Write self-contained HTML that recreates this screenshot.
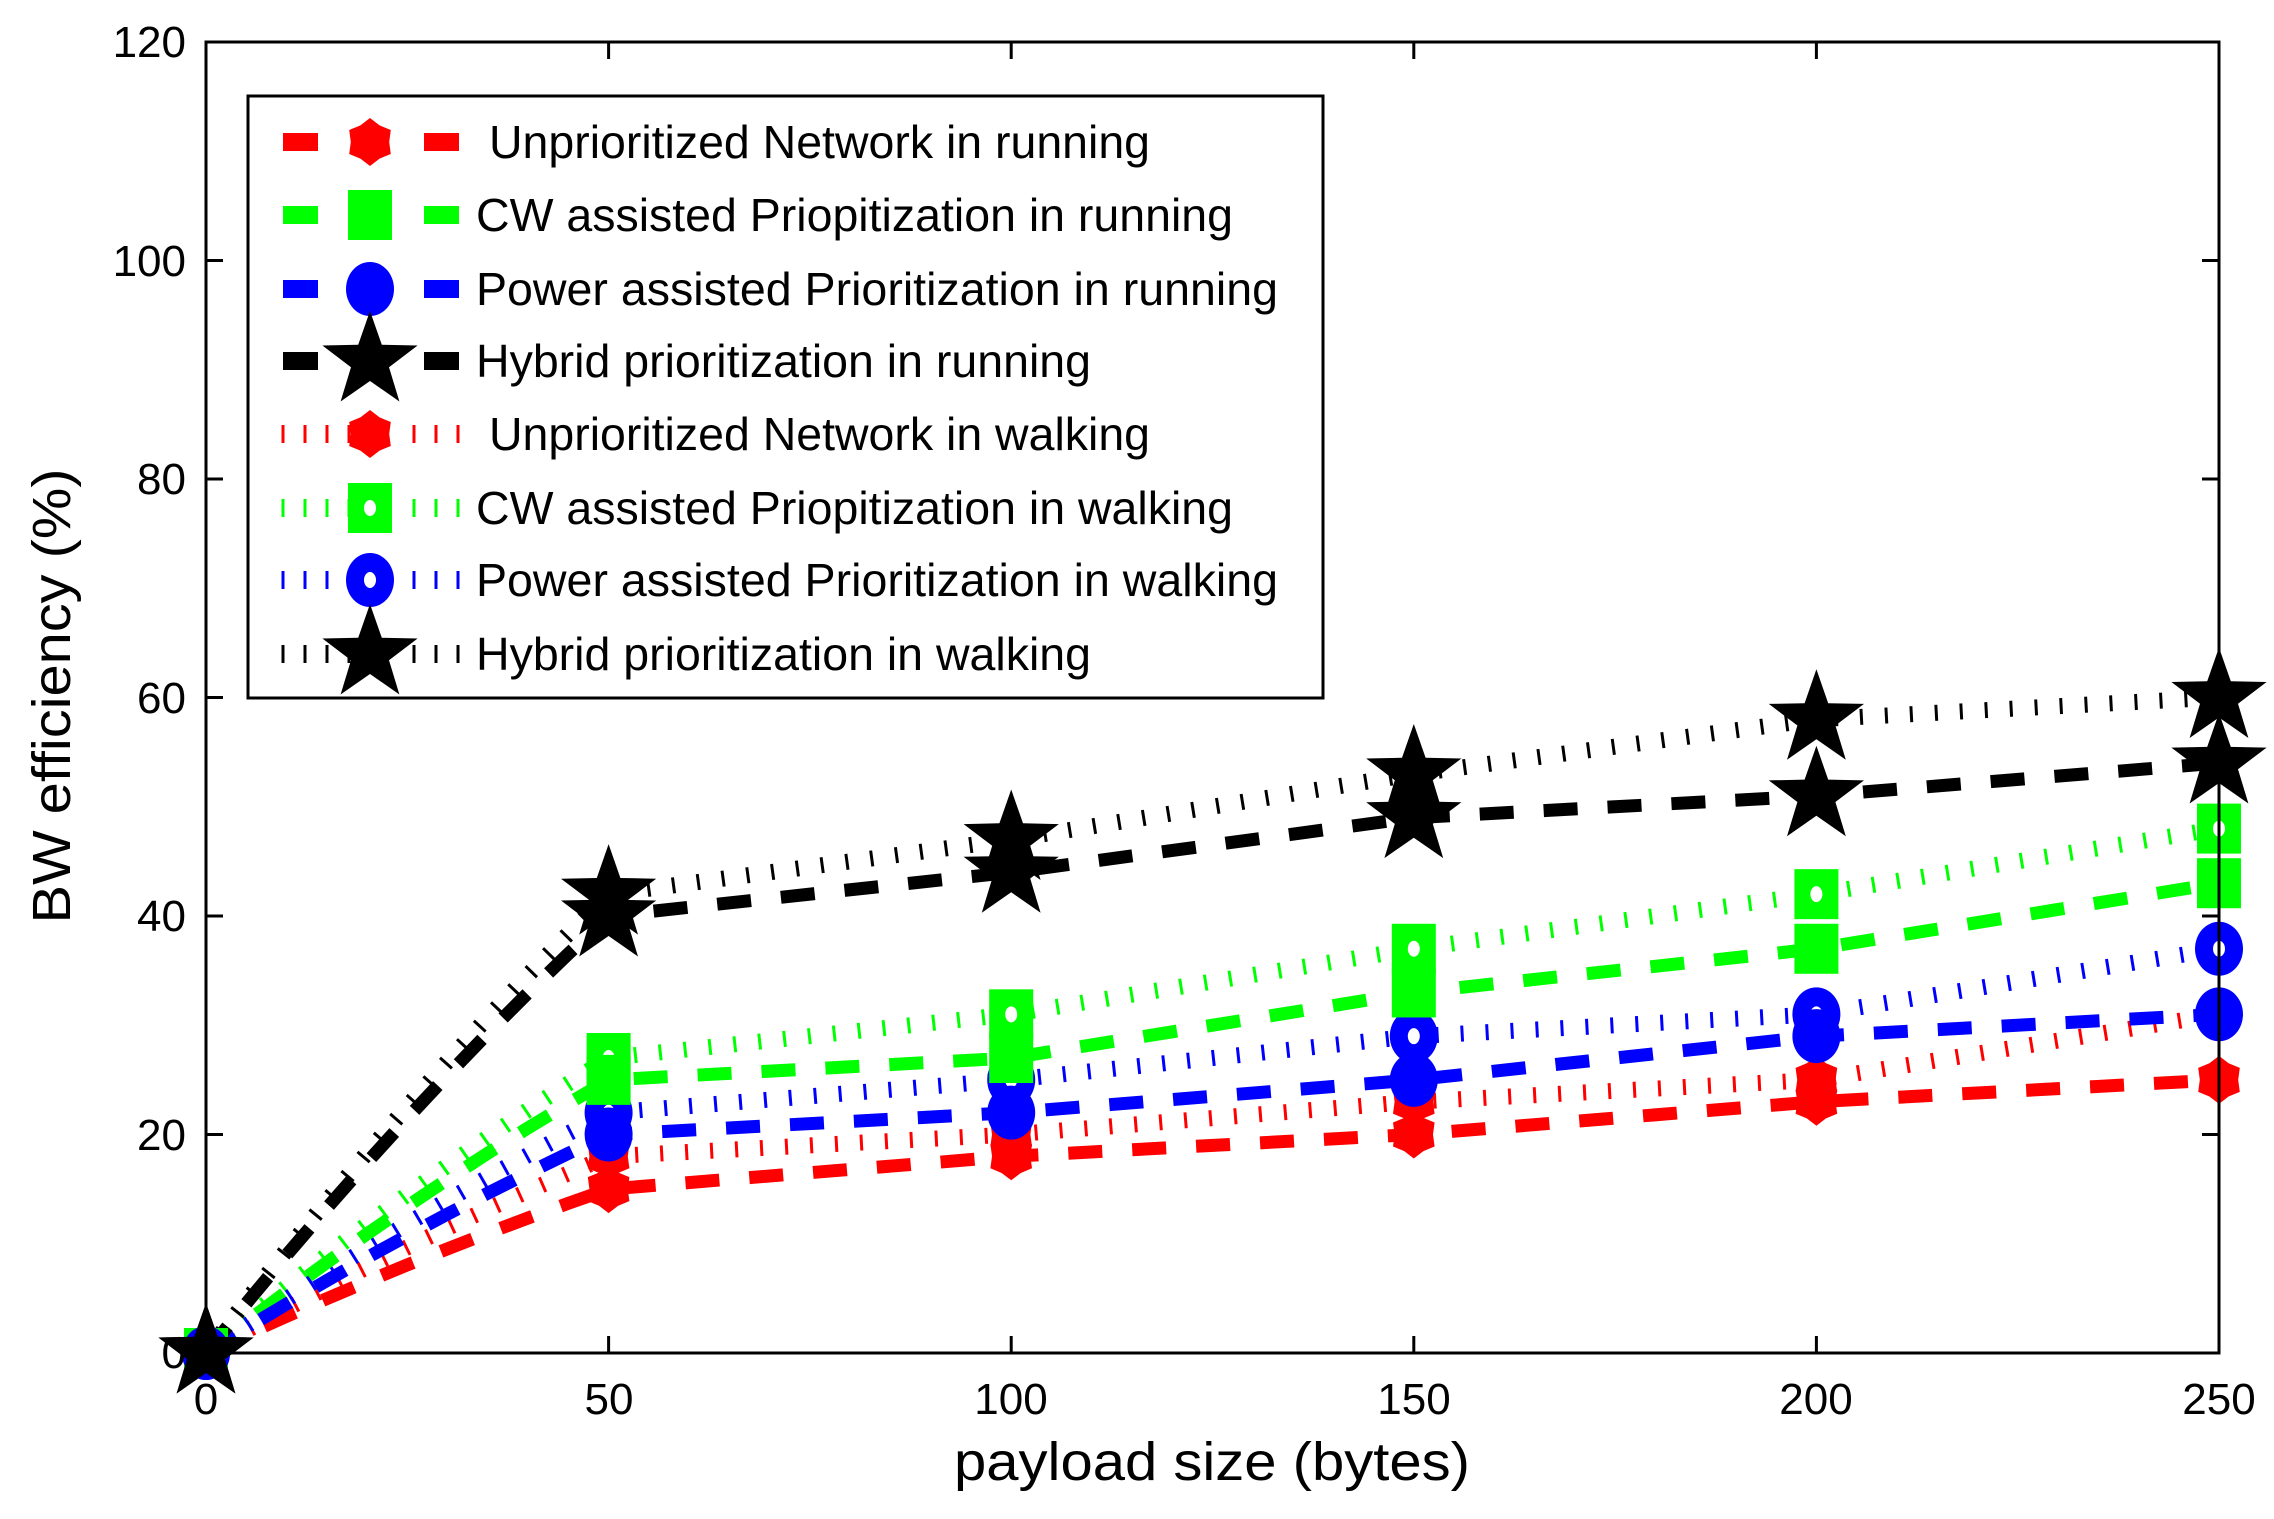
<!DOCTYPE html>
<html><head><meta charset="utf-8"><style>
html,body{margin:0;padding:0;background:#fff;}
svg{display:block;font-family:"Liberation Sans",Arial,sans-serif;}
</style></head><body>
<svg id="s" width="2274" height="1519" viewBox="0 0 2274 1519" xmlns="http://www.w3.org/2000/svg">
<rect width="2274" height="1519" fill="#fff"/>
<g id="plot"></g>
<rect x="206" y="42" width="2013" height="1311" fill="none" stroke="#000" stroke-width="3"/>
<g id="ticks" stroke="#000" stroke-width="3"></g>
<g font-size="44" fill="#000">
<text x="186" y="57" text-anchor="end">120</text>
<text x="186" y="276" text-anchor="end">100</text>
<text x="186" y="494" text-anchor="end">80</text>
<text x="186" y="713" text-anchor="end">60</text>
<text x="186" y="931" text-anchor="end">40</text>
<text x="186" y="1150" text-anchor="end">20</text>
<text x="186" y="1368" text-anchor="end">0</text>
<text x="206" y="1414" text-anchor="middle">0</text>
<text x="609" y="1414" text-anchor="middle">50</text>
<text x="1011" y="1414" text-anchor="middle">100</text>
<text x="1414" y="1414" text-anchor="middle">150</text>
<text x="1816" y="1414" text-anchor="middle">200</text>
<text x="2219" y="1414" text-anchor="middle">250</text>
<text x="1212" y="1480" text-anchor="middle" font-size="54" textLength="516" lengthAdjust="spacingAndGlyphs">payload size (bytes)</text>
<text transform="translate(70,696) rotate(-90)" text-anchor="middle" font-size="54" textLength="455" lengthAdjust="spacingAndGlyphs">BW efficiency (%)</text>
</g>
<rect x="248" y="96" width="1075" height="602" fill="#fff" stroke="#000" stroke-width="3"/>
<g id="leg"></g>
</svg>
<script>
const NS="http://www.w3.org/2000/svg";
function el(p,t,a){const e=document.createElementNS(NS,t);for(const k in a)e.setAttribute(k,a[k]);p.appendChild(e);return e;}
const X=b=>206+b*8.052, Y=v=>1353-v*10.925;
const ticks=document.getElementById('ticks');
for(let v=0;v<=120;v+=20){el(ticks,'line',{x1:206,x2:223,y1:Y(v),y2:Y(v)});el(ticks,'line',{x1:2219,x2:2202,y1:Y(v),y2:Y(v)});}
for(let b=0;b<=250;b+=50){el(ticks,'line',{x1:X(b),x2:X(b),y1:1353,y2:1336});el(ticks,'line',{x1:X(b),x2:X(b),y1:42,y2:59});}
function star(cx,cy,R,n,ri){let p=[];for(let i=0;i<2*n;i++){const r=i%2?R*ri:R;const a=-Math.PI/2+i*Math.PI/n;p.push((cx+r*Math.cos(a)).toFixed(1)+','+(cy+r*Math.sin(a)).toFixed(1));}return p.join(' ');}
function marker(g,type,c,x,y,hollow){
 if(type==='h'){el(g,'polygon',{points:star(x,y,24,6,0.8),fill:c});}
 else if(type==='s'){el(g,'rect',{x:x-22,y:y-25,width:44,height:50,fill:c});}
 else if(type==='o'){el(g,'ellipse',{cx:x,cy:y,rx:24,ry:27,fill:c});}
 else {el(g,'polygon',{points:star(x,y,50,5,0.4),fill:c});}
 if(hollow&&type!=='p'&&type!=='h'){el(g,'ellipse',{cx:x,cy:y,rx:6,ry:8,fill:'#fff'});}
}
const series=[
 {c:'#f00',m:'h',d:[15,18,20,23,25],w:0,t:'Unprioritized Network in running',tx:489,tl:661},
 {c:'#0f0',m:'s',d:[25,27,33,37,43],w:0,t:'CW assisted Priopitization in running',tx:476,tl:757},
 {c:'#00f',m:'o',d:[20,22,25,29,31],w:0,t:'Power assisted Prioritization in running',tx:476,tl:802},
 {c:'#000',m:'p',d:[40,44,49,51,54],w:0,t:'Hybrid prioritization in running',tx:476,tl:615},
 {c:'#f00',m:'h',d:[18,20,23,25,31],w:1,t:'Unprioritized Network in walking',tx:489,tl:661},
 {c:'#0f0',m:'s',d:[27,31,37,42,48],w:1,t:'CW assisted Priopitization in walking',tx:476,tl:757},
 {c:'#00f',m:'o',d:[22,25,29,31,37],w:1,t:'Power assisted Prioritization in walking',tx:476,tl:802},
 {c:'#000',m:'p',d:[42,47,53,58,60],w:1,t:'Hybrid prioritization in walking',tx:476,tl:615},
];
const plot=document.getElementById('plot');
const order=[4,5,6,7,0,1,2,3];
order.forEach(i=>{const s=series[i];
 let pts=[];for(let k=0;k<=10;k++){const t=k/10;pts.push([X(50*t),Y(s.d[0]*t*(1.15-0.15*t))]);}
 for(let k=1;k<5;k++)pts.push([X(50+50*k),Y(s.d[k])]);
 const a={points:pts.map(p=>p[0].toFixed(1)+','+p[1].toFixed(1)).join(' '),fill:'none',stroke:s.c};
 if(s.w){a['stroke-width']=16;a['stroke-dasharray']='3 22';}else{a['stroke-width']=13;a['stroke-dasharray']='34 30';}
 el(plot,'polyline',a);
});
order.forEach(i=>{const s=series[i];
 marker(plot,s.m,s.c,X(0),Y(0),s.w);
 for(let k=0;k<5;k++)marker(plot,s.m,s.c,X(50+50*k),Y(s.d[k]),s.w);
});
const leg=document.getElementById('leg');
const rows=[142,215,289,361,434,508,580,654];
series.forEach((s,i)=>{const y=rows[i];
 if(s.w){[283,305,327,349,392,414,436,458].forEach(x=>{if(x>335&&x<405&&x!==349)return;el(leg,'line',{x1:x,x2:x,y1:y-9,y2:y+9,stroke:s.c,'stroke-width':3});});}
 else{el(leg,'rect',{x:283,y:y-9,width:35,height:18,fill:s.c});el(leg,'rect',{x:424,y:y-9,width:35,height:18,fill:s.c});}
 marker(leg,s.m,s.c,370,y,s.w);
 const t=el(leg,'text',{x:s.tx,y:y+16,'font-size':46,textLength:s.tl,lengthAdjust:'spacingAndGlyphs',fill:'#000'});t.textContent=s.t;
});
</script>
</body></html>
